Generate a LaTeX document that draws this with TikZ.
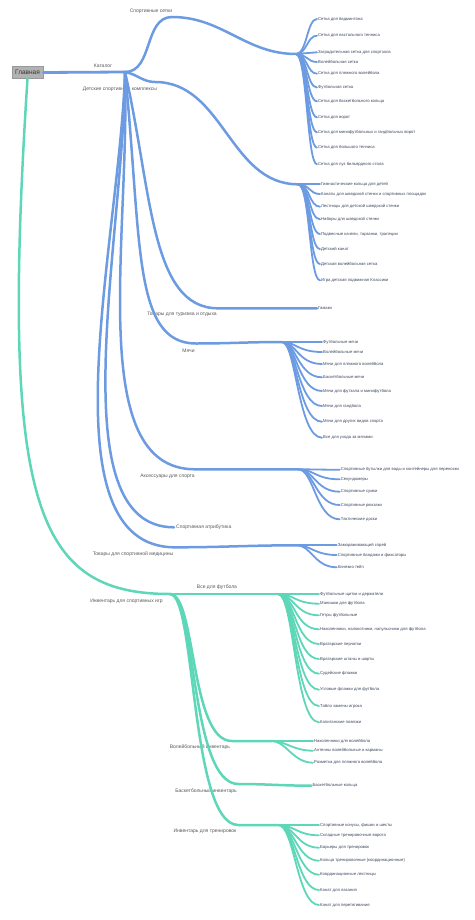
\documentclass[tikz,border=0pt]{standalone}
\usepackage{fontspec}
\setmainfont{Liberation Sans}

\definecolor{sinij}{RGB}{108,155,226}
\definecolor{myata}{RGB}{94,214,184}
\definecolor{punkt}{RGB}{58,68,92}
\definecolor{razd}{RGB}{88,88,88}

\begin{document}
\begin{tikzpicture}[x=1pt,y=-1pt,line cap=round,
        stvol/.style={line width=2.8pt},
        vetv/.style={line width=2.5pt},
        prut/.style={line width=1.8pt},
        list/.style={anchor=west,inner sep=1pt,text=punkt,font=\fontsize{4.2}{5}\selectfont},
        razdel/.style={inner sep=0.5pt,text=razd,font=\fontsize{5}{6}\selectfont}]
        \useasboundingbox (0,0) rectangle (474,920);

        % Корень
        \node[fill=black!30,draw=black!40,text=black!80,minimum width=31.6pt,minimum height=11.6pt,
            inner sep=0pt,font=\fontsize{6.5}{7}\selectfont] (glav) at (27.5,72.5) {Главная};

        % Каталог
        \coordinate (kat) at (125,72);
        \node[razdel] (katlab) at (103,66) {Каталог};
        \draw[stvol,sinij] (glav.east) -- (kat);

        % Спортивные сетки
        \coordinate (setki) at (172,17);
        \coordinate (setkihub) at (296,54);
        \node[razdel] (setkilab) at (151,11) {Спортивные сетки};
        \draw[vetv,sinij] (kat) to[out=0,in=180] (setki) to[out=0,in=180] (setkihub);
        \foreach \y/\t [count=\i] in {19/Сетка для бадминтона, 35.7/Сетка для настольного тенниса,
            52.3/Заградительная сетка для спортзала, 62/Волейбольная сетка,
            73.7/Сетка для пляжного волейбола, 87.5/Футбольная сетка,
            101.3/Сетка для баскетбольного кольца, 117.3/Сетка для ворот,
            132.3/Сетка для минифутбольных и гандбольных ворот, 147.7/Сетка для большого тенниса,
            164.3/Сетка для луз бильярдного стола}{
            \node[list] (setka\i) at (317,\y) {\t};
            \draw[prut,sinij] (setkihub) .. controls +(11,0) and +(-10,0) .. (setka\i.west);
        }

        % Детские спортивные комплексы
        \coordinate (det) at (155,82);
        \coordinate (dethub) at (298,184.3);
        \node[razdel] (detlab) at (120,89) {Детские спортивные комплексы};
        \draw[vetv,sinij] (kat) to[out=-10,in=180] (det) to[out=0,in=180] (dethub);
        \foreach \y/\t [count=\i] in {184.3/Гимнастические кольца для детей,
            194/Канаты для шведской стенки и спортивных площадок,
            206.7/Лестницы для детской шведской стенки, 219.3/Наборы для шведской стенки,
            234/{Подвесные качели, тарзанки, трапеции}, 249/Детский канат,
            264/Детская волейбольная сетка, 280.3/Игра детская подвижная Классики}{
            \node[list] (detsk\i) at (320,\y) {\t};
            \draw[prut,sinij] (dethub) .. controls +(12,0) and +(-11,0) .. (detsk\i.west);
        }

        % Туризм и отдых
        \coordinate (tur) at (218,308.3);
        \node[razdel] (turlab) at (182,314.3) {Товары для туризма и отдыха};
        \node[list] (gamak) at (317,308.3) {Гамаки};
        \draw[vetv,sinij] (kat) .. controls (152,190) and (150,308.3) .. (tur) -- (gamak.west);

        % Мячи
        \coordinate (mjach) at (196,343.5);
        \coordinate (mjachhub) at (282,342);
        \node[razdel] (mjachlab) at (188.5,350.7) {Мячи};
        \draw[vetv,sinij] (kat) .. controls (142,240) and (132,343.5) .. (mjach) to[out=0,in=180] (mjachhub);
        \foreach \y/\t [count=\i] in {342/Футбольные мячи, 352/Волейбольные мячи,
            364/Мячи для пляжного волейбола, 377.3/Баскетбольные мячи,
            391/Мячи для футзала и минифутбола, 406/Мячи для гандбола,
            421.7/Мячи для других видов спорта, 437.7/Все для ухода за мячами}{
            \node[list] (mjachi\i) at (322,\y) {\t};
            \draw[prut,sinij] (mjachhub) .. controls +(14,0) and +(-24,0) .. (mjachi\i.west);
        }

        % Аксессуары
        \coordinate (aks) at (195,469.3);
        \coordinate (akshub) at (298,469.3);
        \node[razdel] (akslab) at (167.5,476) {Аксессуары для спорта};
        \draw[vetv,sinij] (kat) .. controls (130,240) and (85,469.3) .. (aks) -- (akshub);
        \foreach \y/\t [count=\i] in {469.7/Спортивные бутылки для воды и контейнеры для переноски,
            479.3/Секундомеры, 491.7/Спортивные сумки, 505/Спортивные рюкзаки,
            519.3/Тактические доски}{
            \node[list] (aksi\i) at (339.7,\y) {\t};
            \draw[prut,sinij] (akshub) .. controls +(16,0) and +(-24,0) .. (aksi\i.west);
        }

        % Атрибутика
        \node[razdel,anchor=west,inner sep=2pt] (atrib) at (174,527.3) {Спортивная атрибутика};
        \draw[vetv,sinij] (kat) .. controls (124,240) and (58,527.3) .. (atrib.west);

        % Спортивная медицина
        \coordinate (med) at (175,547.3);
        \coordinate (medhub) at (297,545.3);
        \node[razdel] (medlab) at (133,553.7) {Товары для спортивной медицины};
        \draw[vetv,sinij] (kat) .. controls (120,240) and (42,547.3) .. (med) to[out=0,in=180] (medhub);
        \foreach \y/\t [count=\i] in {545.3/Замораживающий спрей,
            555/Спортивные бандажи и фиксаторы, 567.3/Кинезио тейп}{
            \node[list] (medi\i) at (336.7,\y) {\t};
            \draw[prut,sinij] (medhub) .. controls +(14,0) and +(-22,0) .. (medi\i.west);
        }

        % Инвентарь для спортивных игр
        \coordinate (inv) at (170,594);
        \node[razdel] (invlab) at (126.5,601) {Инвентарь для спортивных игр};
        \draw[vetv,myata] (glav.south) .. controls (0,505) and (35,594) .. (inv);

        % Футбол
        \coordinate (futb) at (238,594);
        \coordinate (futbhub) at (278,594);
        \node[razdel] (futblab) at (217,587.3) {Все для футбола};
        \draw[vetv,myata] (inv) -- (futb) -- (futbhub);
        \foreach \y/\t [count=\i] in {594/Футбольные щитки и держатели, 603.7/Манишки для футбола,
            615.3/Гетры футбольные, 629.3/{Наколенники, налокотники, напульсники для футбола},
            644/Вратарские перчатки, 659/Вратарские штаны и шорты, 673.7/Судейские флажки,
            689.7/Угловые флажки для футбола, 706/Табло замены игрока, 722.3/Капитанские повязки}{
            \node[list] (futbi\i) at (319,\y) {\t};
            \draw[prut,myata] (futbhub) .. controls +(16,0) and +(-24,0) .. (futbi\i.west);
        }

        % Волейбол
        \coordinate (vol) at (231.7,741);
        \coordinate (volhub) at (271.7,741);
        \node[razdel] (vollab) at (200,747.3) {Волейбольный инвентарь};
        \draw[vetv,myata] (inv) .. controls (196,594) and (190,741) .. (vol) -- (volhub);
        \foreach \y/\t [count=\i] in {741/Наколенники для волейбола,
            750.7/Антенны волейбольные и карманы, 762.7/Разметка для пляжного волейбола}{
            \node[list] (voli\i) at (313,\y) {\t};
            \draw[prut,myata] (volhub) .. controls +(14,0) and +(-20,0) .. (voli\i.west);
        }

        % Баскетбол
        \coordinate (bask) at (238.3,784);
        \node[razdel] (basklab) at (206,791) {Баскетбольный инвентарь};
        \node[list] (koltso) at (311.3,785.7) {Баскетбольные кольца};
        \draw[vetv,myata] (inv) .. controls (196,594) and (190,784) .. (bask) to[out=0,in=180] (koltso.west);

        % Тренировки
        \coordinate (tren) at (238.3,825);
        \coordinate (trenhub) at (278.3,825);
        \node[razdel] (trenlab) at (205,831.7) {Инвентарь для тренировок};
        \draw[vetv,myata] (inv) .. controls (196,594) and (190,825) .. (tren) -- (trenhub);
        \foreach \y/\t [count=\i] in {825/{Спортивные конусы, фишки и шесты},
            835.3/Складные тренировочные ворота, 847.7/Барьеры для тренировок,
            860.7/Кольца тренировочные (координационные), 874.7/Координационные лестницы,
            890/Канат для лазания, 905/Канат для перетягивания}{
            \node[list] (treni\i) at (319,\y) {\t};
            \draw[prut,myata] (trenhub) .. controls +(16,0) and +(-22,0) .. (treni\i.west);
        }
    \end{tikzpicture}
\end{document}
